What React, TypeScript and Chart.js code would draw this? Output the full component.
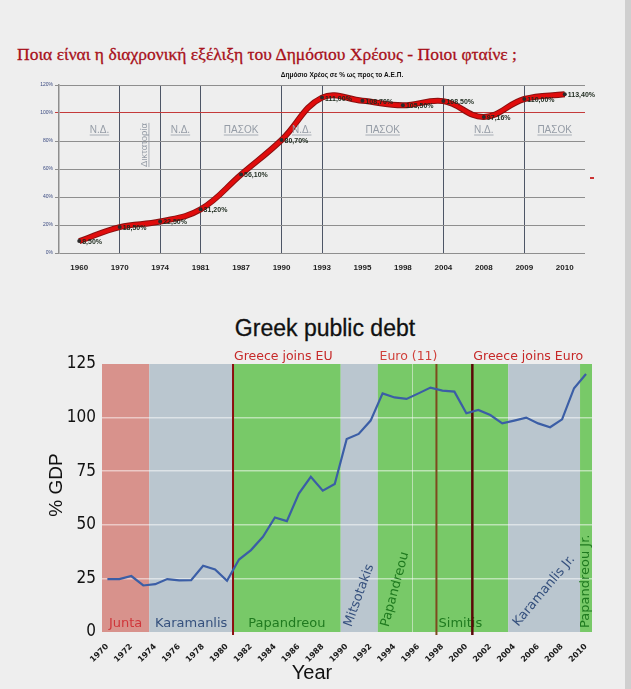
import React, { useEffect, useRef } from 'react';
import { Chart, registerables } from 'chart.js';

Chart.register(...registerables);

// ---------- Top chart data (Greek) ----------
const topYears = ['1960', '1970', '1974', '1981', '1987', '1990', '1993', '1995', '1998', '2004', '2008', '2009', '2010'];
const topDebt = [8.5, 18.5, 22.5, 31.2, 56.1, 80.7, 111.0, 108.7, 105.5, 108.5, 97.16, 110.0, 113.4];
const topDebtLabels = ['8,50%', '18,50%', '22,50%', '31,20%', '56,10%', '80,70%', '111,00%', '108,70%', '105,50%', '108,50%', '97,16%', '110,00%', '113,40%'];
const topDividerYears = ['1970', '1974', '1981', '1990', '1993', '2004', '2009'];
const topPeriodNames = ['Ν.Δ.', 'Δικτατορία', 'Ν.Δ.', 'ΠΑΣΟΚ', 'Ν.Δ.', 'ΠΑΣΟΚ', 'Ν.Δ.', 'ΠΑΣΟΚ'];
const topPeriodFrom = ['1960', '1970', '1974', '1981', '1990', '1993', '2004', '2009'];
const topPeriodTo: (string | null)[] = ['1970', '1974', '1981', '1990', '1993', '2004', '2009', null];
const topTitle = 'Ποια είναι η διαχρονική εξέλιξη του Δημόσιου Χρέους - Ποιοι φταίνε ;';
const topSubtitle = 'Δημόσιο Χρέος σε % ως προς το Α.Ε.Π.';

// ---------- Bottom chart data ----------
const gdpYears = [1970, 1971, 1972, 1973, 1974, 1975, 1976, 1977, 1978, 1979, 1980, 1981, 1982, 1983, 1984, 1985, 1986, 1987, 1988, 1989, 1990, 1991, 1992, 1993, 1994, 1995, 1996, 1997, 1998, 1999, 2000, 2001, 2002, 2003, 2004, 2005, 2006, 2007, 2008, 2009, 2010];
const gdpDebt = [24.7, 24.7, 26.1, 21.7, 22.3, 24.7, 24.1, 24.2, 30.9, 29.2, 23.9, 33.8, 38.2, 44.4, 53.4, 51.7, 64.6, 72.4, 65.9, 69.0, 90.0, 92.4, 98.6, 111.3, 109.4, 108.7, 111.3, 114.0, 112.6, 112.1, 102.0, 103.6, 101.2, 97.3, 98.6, 100.0, 97.3, 95.5, 99.2, 113.7, 120.3];
const gdpTickYears = [1970, 1972, 1974, 1976, 1978, 1980, 1982, 1984, 1986, 1988, 1990, 1992, 1994, 1996, 1998, 2000, 2002, 2004, 2006, 2008, 2010];
const govNames = ['Junta', 'Karamanlis', 'Papandreou', 'Mitsotakis', 'Papandreou', 'Simitis', 'Karamanlis Jr.', 'Papandreou Jr.'];
const govStart = [1969.55, 1973.5, 1980.5, 1989.5, 1992.6, 1995.5, 2003.5, 2009.5];
const govEnd = [1973.5, 1980.5, 1989.5, 1992.6, 1995.5, 2003.5, 2009.5, 2010.5];
const govParty = ['junta', 'nd', 'pasok', 'nd', 'pasok', 'pasok', 'nd', 'pasok'];
const eventNames = ['Greece joins EU', 'Euro (11)', 'Greece joins Euro'];
const eventYears = [1980.5, 1997.5, 2000.5];

// ---------- Styles ----------
const bandFill: Record<string, string> = { junta: 'rgb(216,146,140)', nd: 'rgb(186,198,207)', pasok: 'rgb(120,201,104)' };
const bandText: Record<string, string> = { junta: '#d0353a', nd: '#35507d', pasok: '#1f7a1f' };
const govLabelRotation = [0, 0, 0, 70, 75, 0, 50, 90];
const eventStyle = [
  { line: '#8b0f0f', width: 2, text: '#c62828', align: 'left', dx: 1 },
  { line: '#7d4a1e', width: 2, text: '#d0403a', align: 'right', dx: 1 },
  { line: '#5a0808', width: 2.5, text: '#c62828', align: 'left', dx: 1 },
];

const topPlugin = {
  id: 'topDecor',
  afterDatasetsDraw(chart: any) {
    const ctx = chart.ctx;
    const xs = chart.scales.x;
    const area = chart.chartArea;
    ctx.save();
    // subtitle
    ctx.font = 'bold 6.5px "Liberation Sans", sans-serif';
    ctx.fillStyle = '#111';
    ctx.textAlign = 'center';
    ctx.textBaseline = 'middle';
    ctx.fillText(topSubtitle, 342, 13);
    // period labels
    ctx.fillStyle = '#959ca6';
    ctx.strokeStyle = '#959ca6';
    ctx.lineWidth = 0.8;
    topPeriodNames.forEach((name, i) => {
      const a = xs.getPixelForValue(topYears.indexOf(topPeriodFrom[i]));
      const to = topPeriodTo[i];
      const b = to === null ? area.right : xs.getPixelForValue(topYears.indexOf(to));
      const cx = (a + b) / 2;
      if (name === 'Δικτατορία') {
        ctx.save();
        ctx.translate(cx + 4, area.top + 60);
        ctx.rotate(-Math.PI / 2);
        ctx.font = '9.5px "Liberation Sans", sans-serif';
        ctx.textAlign = 'center';
        ctx.textBaseline = 'middle';
        ctx.fillText(name, 0, 0);
        const w = ctx.measureText(name).width;
        ctx.beginPath();
        ctx.moveTo(-w / 2, 5);
        ctx.lineTo(w / 2, 5);
        ctx.stroke();
        ctx.restore();
      } else {
        ctx.font = '10px "Liberation Sans", sans-serif';
        ctx.textAlign = 'center';
        ctx.textBaseline = 'middle';
        const y = area.top + 45;
        ctx.fillText(name, cx, y);
        const w = ctx.measureText(name).width;
        ctx.beginPath();
        ctx.moveTo(cx - w / 2, y + 5);
        ctx.lineTo(cx + w / 2, y + 5);
        ctx.stroke();
      }
    });
    // value labels
    const meta = chart.getDatasetMeta(0);
    ctx.font = 'bold 7px "Liberation Sans", sans-serif';
    ctx.fillStyle = '#1e2a1e';
    ctx.textAlign = 'left';
    ctx.textBaseline = 'middle';
    meta.data.forEach((pt: any, i: number) => {
      ctx.fillText(topDebtLabels[i], pt.x + 3, pt.y + 1);
    });
    ctx.restore();
  },
};

const bottomPlugin = {
  id: 'bottomDecor',
  beforeDraw(chart: any) {
    const ctx = chart.ctx;
    const xs = chart.scales.x;
    const area = chart.chartArea;
    ctx.save();
    govNames.forEach((_, i) => {
      const a = Math.max(area.left, xs.getPixelForValue(govStart[i]));
      const b = Math.min(area.right, xs.getPixelForValue(govEnd[i]));
      ctx.fillStyle = bandFill[govParty[i]];
      ctx.fillRect(a, area.top, b - a, area.bottom - area.top);
      if (i > 0 && govParty[i] === govParty[i - 1]) {
        ctx.fillStyle = 'rgba(255,255,255,0.35)';
        ctx.fillRect(a - 0.5, area.top, 1, area.bottom - area.top);
      }
    });
    ctx.restore();
  },
  beforeDatasetsDraw(chart: any) {
    const ctx = chart.ctx;
    const xs = chart.scales.x;
    const area = chart.chartArea;
    ctx.save();
    ctx.font = '13px "DejaVu Sans", sans-serif';
    govNames.forEach((name, i) => {
      const a = Math.max(area.left, xs.getPixelForValue(govStart[i]));
      const b = Math.min(area.right, xs.getPixelForValue(govEnd[i]));
      const cx = (a + b) / 2;
      ctx.fillStyle = bandText[govParty[i]];
      const rot = govLabelRotation[i];
      if (rot === 0) {
        ctx.textAlign = 'center';
        ctx.textBaseline = 'alphabetic';
        ctx.fillText(name, cx, area.bottom - 5);
      } else {
        const w = ctx.measureText(name).width;
        const r = (rot * Math.PI) / 180;
        const ext = w * Math.sin(r) + 10 * Math.cos(r);
        ctx.save();
        ctx.translate(cx, area.bottom - 4 - ext / 2);
        ctx.rotate(-r);
        ctx.textAlign = 'center';
        ctx.textBaseline = 'middle';
        ctx.fillText(name, 0, 0);
        ctx.restore();
      }
    });
    // event lines and labels
    eventNames.forEach((name, i) => {
      const x = xs.getPixelForValue(eventYears[i]);
      const st = eventStyle[i];
      ctx.strokeStyle = st.line;
      ctx.lineWidth = st.width;
      ctx.beginPath();
      ctx.moveTo(x, area.top);
      ctx.lineTo(x, area.bottom + 3);
      ctx.stroke();
      ctx.font = '12.5px "DejaVu Sans", sans-serif';
      ctx.fillStyle = st.text;
      ctx.textAlign = st.align as CanvasTextAlign;
      ctx.textBaseline = 'alphabetic';
      ctx.fillText(name, x + st.dx, area.top - 4);
    });
    ctx.restore();
  },
};

export default function App() {
  const topRef = useRef<HTMLCanvasElement>(null);
  const botRef = useRef<HTMLCanvasElement>(null);

  useEffect(() => {
    const dividers = new Set(topDividerYears);
    const top = new Chart(topRef.current as HTMLCanvasElement, {
      type: 'line',
      data: {
        labels: topYears,
        datasets: [
          {
            data: topDebt,
            borderColor: '#e00c0c',
            borderWidth: 4,
            tension: 0.4,
            pointRadius: 2,
            pointBackgroundColor: '#2b2b2b',
            pointBorderWidth: 0,
            order: 0,
          },
          {
            data: topDebt,
            borderColor: '#8a1010',
            borderWidth: 6,
            tension: 0.4,
            pointRadius: 0,
            order: 1,
          },
        ],
      },
      options: {
        animation: false,
        responsive: true,
        maintainAspectRatio: false,
        layout: { padding: { top: 23, right: 46, left: 0, bottom: 0 } },
        plugins: { legend: { display: false }, tooltip: { enabled: false } },
        scales: {
          x: {
            offset: true,
            grid: {
              offset: false,
              drawTicks: false,
              lineWidth: 1,
              color: (c: any) => (dividers.has(topYears[c.index]) ? '#4d5566' : 'rgba(0,0,0,0)'),
            },
            border: { display: false },
            ticks: {
              font: { family: '"Liberation Sans", sans-serif', size: 8, weight: 'bold' },
              color: '#222',
              padding: 10,
              maxRotation: 0,
              autoSkip: false,
            },
            afterFit: (s: any) => { s.height = 27; },
          },
          y: {
            min: 0,
            max: 120,
            ticks: {
              stepSize: 20,
              callback: (v: any) => v + '%',
              font: { family: '"Liberation Sans", sans-serif', size: 5 },
              color: '#3a4a80',
              padding: 2,
            },
            grid: {
              tickLength: 4,
              lineWidth: 1,
              color: (c: any) => (c.tick && c.tick.value === 100 ? '#c43a3a' : '#8e8e8e'),
            },
            border: { color: '#8e8e8e', width: 1.5 },
            afterFit: (s: any) => { s.width = 59; },
          },
        },
      } as any,
      plugins: [topPlugin],
    });

    const bot = new Chart(botRef.current as HTMLCanvasElement, {
      type: 'line',
      data: {
        datasets: [
          {
            data: gdpYears.map((y, i) => ({ x: y, y: gdpDebt[i] })),
            borderColor: '#3b5ea6',
            borderWidth: 2.2,
            pointRadius: 0,
            tension: 0,
          },
        ],
      },
      options: {
        animation: false,
        responsive: true,
        maintainAspectRatio: false,
        layout: { padding: { top: 64, right: 39, left: 0, bottom: 0 } },
        plugins: { legend: { display: false }, tooltip: { enabled: false } },
        scales: {
          x: {
            type: 'linear',
            min: 1969.55,
            max: 2010.5,
            afterBuildTicks: (s: any) => { s.ticks = gdpTickYears.map((v) => ({ value: v })); },
            ticks: {
              callback: (v: any) => String(v),
              minRotation: 45,
              maxRotation: 45,
              autoSkip: false,
              font: { family: '"DejaVu Sans", sans-serif', size: 8, weight: 'bold' },
              color: '#1a1a1a',
              padding: 2,
            },
            grid: { display: false },
            border: { display: false },
            afterFit: (s: any) => { s.height = 57; },
          },
          y: {
            min: 0,
            max: 125,
            ticks: {
              stepSize: 25,
              font: { family: '"DejaVu Sans Condensed", "Liberation Sans Narrow", "DejaVu Sans", sans-serif', size: 17 },
              color: '#111',
              padding: 6,
            },
            grid: {
              drawTicks: false,
              lineWidth: 1.5,
              color: (c: any) => (c.tick && (c.tick.value === 0 || c.tick.value === 125) ? 'rgba(0,0,0,0)' : 'rgba(255,255,255,0.5)'),
            },
            border: { display: false },
            afterFit: (s: any) => { s.width = 102; },
          },
        },
      } as any,
      plugins: [bottomPlugin],
    });

    return () => {
      top.destroy();
      bot.destroy();
    };
  }, []);

  return (
    <div style={{ position: 'fixed', left: 0, top: 0, width: 631, height: 689, background: '#eeeeee', overflow: 'hidden' }}>
      <div style={{ position: 'absolute', left: 17, top: 44, fontFamily: '"Liberation Serif", serif', fontSize: 17.5, lineHeight: '20px', color: '#a8101a', whiteSpace: 'nowrap', WebkitTextStroke: '0.3px #a8101a' }}>
        {topTitle}
      </div>
      <div style={{ position: 'absolute', left: 0, top: 62, width: 631, height: 218 }}>
        <canvas ref={topRef} />
      </div>
      <div style={{ position: 'absolute', left: 590, top: 177, width: 4, height: 1.5, background: '#c33' }} />
      <div style={{ position: 'absolute', left: 175, top: 314, width: 300, textAlign: 'center', fontFamily: '"Liberation Sans", sans-serif', fontSize: 23, lineHeight: '28px', color: '#111', WebkitTextStroke: '0.3px #111' }}>
        Greek public debt
      </div>
      <div style={{ position: 'absolute', left: 0, top: 300, width: 631, height: 389 }}>
        <canvas ref={botRef} />
      </div>
      <div style={{ position: 'absolute', left: 6, top: 473, width: 100, height: 24, lineHeight: '24px', textAlign: 'center', transform: 'rotate(-90deg)', fontFamily: '"Liberation Sans", sans-serif', fontSize: 19, color: '#111' }}>
        % GDP
      </div>
      <div style={{ position: 'absolute', left: 262, top: 660, width: 100, lineHeight: '24px', textAlign: 'center', fontFamily: '"Liberation Sans", sans-serif', fontSize: 20, color: '#111' }}>
        Year
      </div>
      <div style={{ position: 'absolute', left: 625, top: 0, width: 6, height: 689, background: '#cfcfcf' }} />
    </div>
  );
}
